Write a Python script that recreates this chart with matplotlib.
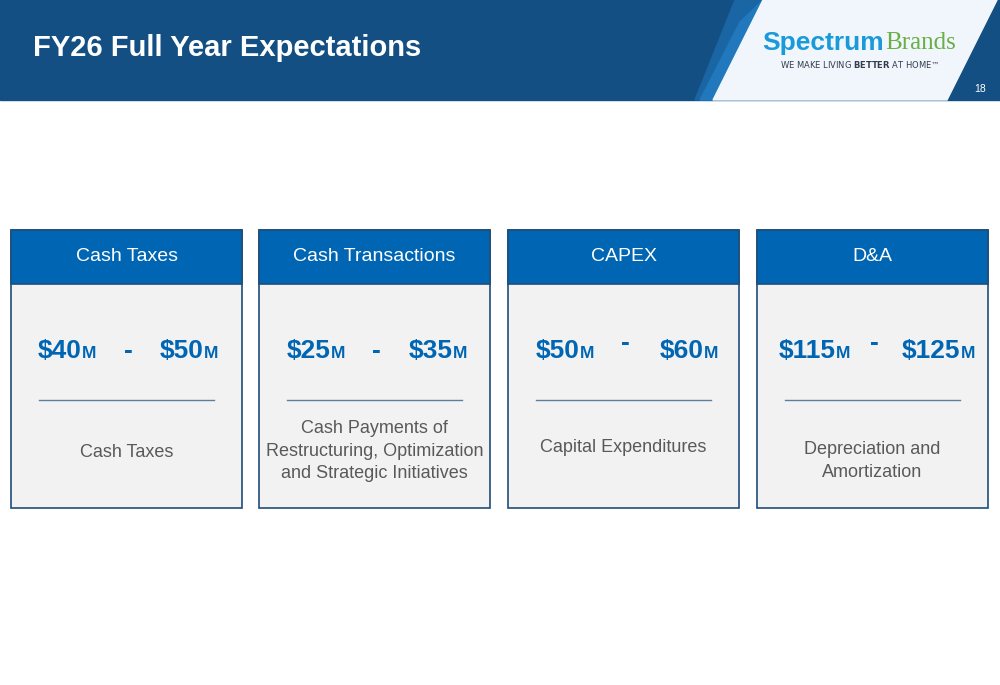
import matplotlib.pyplot as plt
from matplotlib.patches import Rectangle, Polygon

plt.rcParams['font.family'] = ['Liberation Sans', 'DejaVu Sans']

headers = ['Cash Taxes', 'Cash Transactions', 'CAPEX', 'D&A']
low = ['$40', '$25', '$50', '$115']
high = ['$50', '$35', '$60', '$125']
descs = ['Cash Taxes', 'Cash Payments of\nRestructuring, Optimization\nand Strategic Initiatives',
         'Capital Expenditures', 'Depreciation and\nAmortization']
dash_raised = [False, False, True, True]

card_x = [11, 259, 508, 757]
card_w = 231
low_off = [27, 28, 28, 22]
high_off = [149, 150, 152, 145]
desc_y = [452, 451, 447, 461]

fig = plt.figure(figsize=(10, 6.85), dpi=100)
ax = fig.add_axes([0, 0, 1, 1])
ax.set_xlim(0, 1000)
ax.set_ylim(685, 0)
ax.axis('off')

# top band
ax.add_patch(Rectangle((0, 0), 1000, 100, color='#134f83', zorder=0))
ax.add_patch(Polygon([(735, 0), (763, 0), (713, 100), (695, 100)], color='#1a65a3', zorder=1))
ax.add_patch(Polygon([(740, 22), (763, 0), (713, 100), (700, 100)], color='#2178bd', zorder=1))
ax.add_patch(Polygon([(763, 0), (997, 0), (947, 100), (713, 100)], color='#f0f6fc', zorder=2))
ax.text(33, 48, 'FY26 Full Year Expectations', color='white', fontsize=21, fontweight='bold', va='center')
ax.text(980, 89, '18', color='white', fontsize=7.5, ha='center', va='center')
ax.text(884, 43, 'Spectrum', color='#1a9ad9', fontsize=19, fontweight='bold', ha='right', va='center', zorder=3)
ax.text(885, 43, 'Brands', color='#6aaf45', fontsize=18, ha='left', va='center',
        family=['Liberation Serif', 'DejaVu Serif'], zorder=3)
ax.text(860, 64, 'WE MAKE LIVING $\\bf{BETTER}$ AT HOME™', color='#333c4e', fontsize=6, ha='center',
        va='center', family=['DejaVu Sans'], zorder=3)

r = fig.canvas.get_renderer()
for i, x in enumerate(card_x):
    ax.add_patch(Rectangle((x, 230), card_w, 278, facecolor='#f2f2f2', edgecolor='#1f4e79', lw=1.2))
    ax.add_patch(Rectangle((x, 230), card_w, 54, facecolor='#0066b3', edgecolor='#1f4e79', lw=1.2))
    cx = x + card_w / 2
    ax.text(cx, 256, headers[i], color='white', fontsize=14, ha='center', va='center')
    ax.plot([x + 28, x + 203], [400, 400], color='#5a7fa0', lw=1)
    ax.text(cx, desc_y[i], descs[i], color='#595959', fontsize=13, ha='center', va='center', linespacing=1.45)
    for val, mx in [(low[i], x + low_off[i]), (high[i], x + high_off[i])]:
        t = ax.text(mx, 351, val.replace('$', '\\$'), color='#0066b3', fontsize=19, fontweight='bold',
                    ha='left', va='center')
        bb = t.get_window_extent(r)
        xe = ax.transData.inverted().transform((bb.x1, 0))[0]
        ax.text(xe, 353, 'M', color='#0066b3', fontsize=12.5, fontweight='bold', ha='left', va='center')
    ax.text(cx + 2, 343 if dash_raised[i] else 351, '-', color='#0066b3', fontsize=19, fontweight='bold',
            ha='center', va='center')

fig.savefig('out.png', dpi=100, facecolor='white')
